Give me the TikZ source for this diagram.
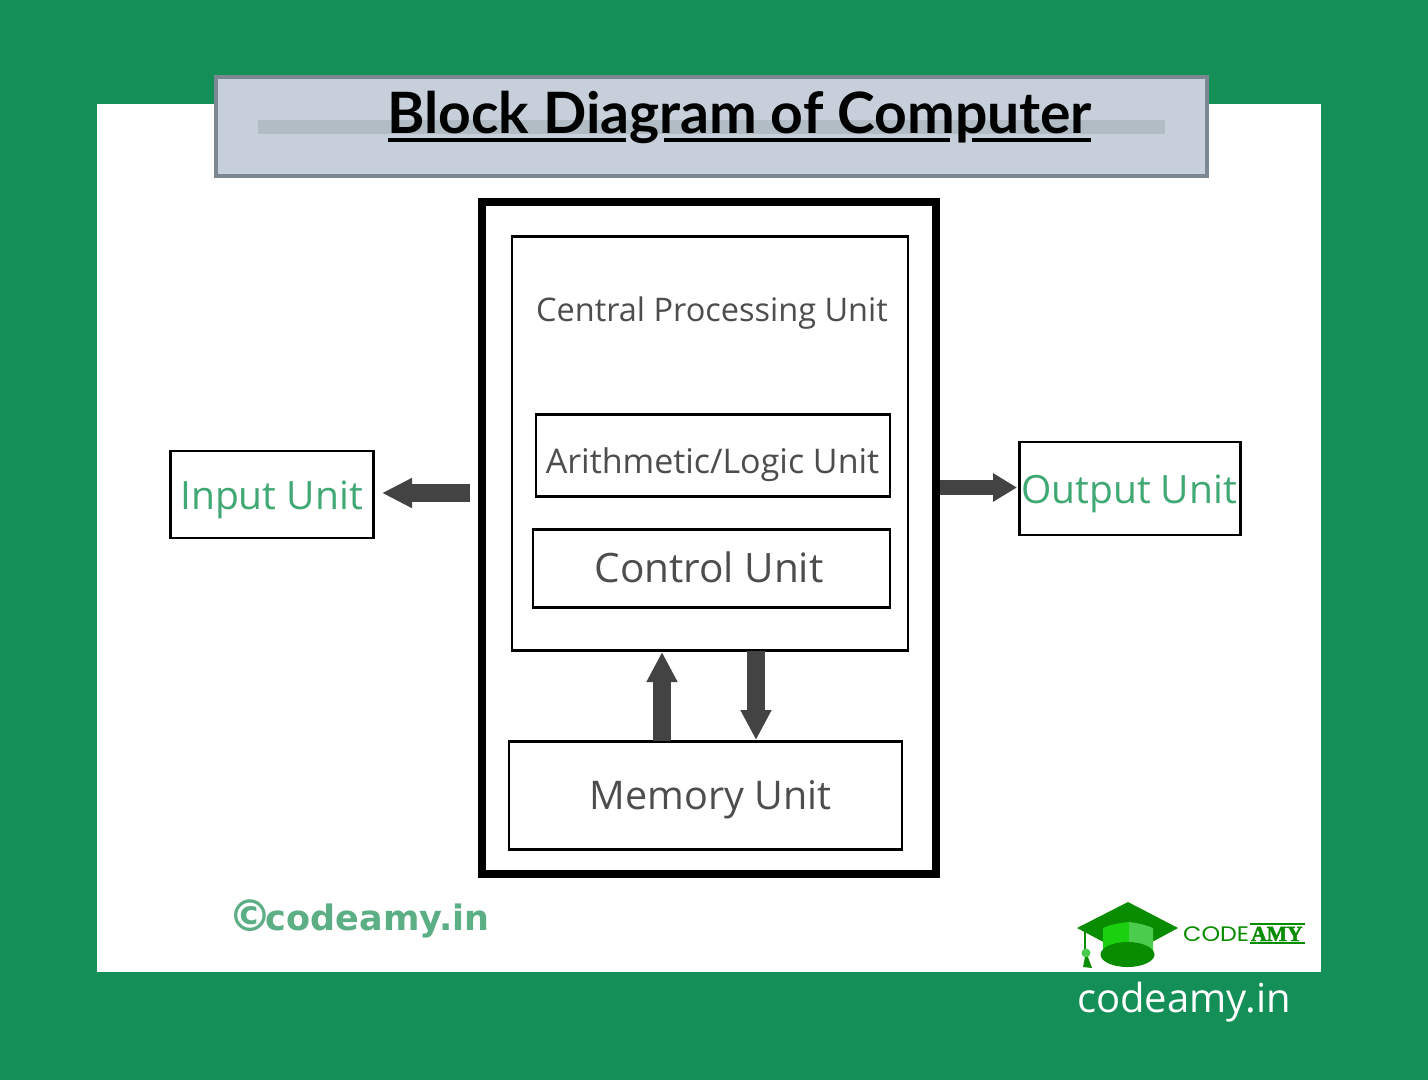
\documentclass[tikz,border=0pt]{standalone}
\usepackage{fontspec}
\usepackage{graphicx}
\setmainfont{Open Sans}
\newfontfamily\titlefont{Lato}
\newfontfamily\logofont[BoldFeatures={FakeBold=2}]{Liberation Serif}
\newfontfamily\codefont{Poppins}
\newfontfamily\markfont{DejaVu Sans}
\usetikzlibrary{arrows.meta}
\definecolor{pagegreen}{HTML}{148F57}
\definecolor{titlefill}{HTML}{C7CFDA}
\definecolor{titleedge}{HTML}{7B8791}
\definecolor{titleband}{HTML}{B1BCC5}
\definecolor{unitgreen}{HTML}{3FA873}
\definecolor{unitgrey}{HTML}{4D4D4D}
\definecolor{arrowgrey}{HTML}{434343}
\definecolor{markgreen}{HTML}{5CAE84}
\definecolor{capdark}{HTML}{0A8C00}
\definecolor{capmid}{HTML}{1BD00F}
\definecolor{caplight}{HTML}{4CCC4C}
\tikzset{
  unitbox/.style={draw=black,line width=2.2pt,fill=white,inner sep=0pt,anchor=center},
  unittext/.style={text=unitgrey,font=\fontsize{#1}{#1}\selectfont,inner sep=0pt},
  iotext/.style={text=unitgreen,font=\fontsize{39}{39}\selectfont,inner sep=0pt},
  bigarrow/.style={draw=arrowgrey,line width=#1},
}
\begin{document}
\begin{tikzpicture}[x=1pt,y=-1pt]
\useasboundingbox (0,0) rectangle (1428,1080);
\fill[pagegreen] (0,0) rectangle (1428,1080);
\fill[white] (96.5,104) rectangle (1321,972);
% title
\node[draw=titleedge,fill=titlefill,line width=3.5pt,minimum width=991pt,minimum height=99pt,inner sep=0pt] (title) at (711.5,126.5) {};
\fill[titleband] (258,120) rectangle (1165,134);
\fill[black] (387.5,137.5) rectangle (626,142);
\fill[black] (664,137.5) rectangle (950,142);
\fill[black] (972,137.5) rectangle (1091,142);
\node[inner sep=0pt,anchor=base,font=\titlefont\bfseries\fontsize{57}{57}\selectfont] (titletext) at (739.5,133) {Block Diagram of Computer};
% main boxes
\node[draw=black,line width=8pt,minimum width=454pt,minimum height=672pt,inner sep=0pt] (computer) at (708.5,538) {};
\node[unitbox,minimum width=396pt,minimum height=414pt] (cpu) at (710,443.5) {};
\node[unittext=32.5,anchor=base] (cputext) at (712,321) {Central Processing Unit};
\node[unitbox,minimum width=354pt,minimum height=82pt] (alu) at (713,455.5) {};
\node[unittext=34,anchor=base] (alutext) at (712.5,473) {Arithmetic/Logic Unit};
\node[unitbox,minimum width=357pt,minimum height=78pt] (control) at (711.5,568.5) {};
\node[unittext=40.5,anchor=base] (controltext) at (709,582.5) {Control Unit};
\node[unitbox,minimum width=393pt,minimum height=108pt] (memory) at (705.5,795.5) {};
\node[unittext=39.5,anchor=base] (memorytext) at (710.5,809) {Memory Unit};
\node[unitbox,minimum width=203pt,minimum height=87pt] (input) at (272,494.5) {};
\node[iotext,anchor=base] (inputtext) at (271.5,509.5) {Input Unit};
\node[unitbox,minimum width=221pt,minimum height=93pt] (output) at (1130,488.5) {};
\node[iotext,anchor=base] (outputtext) at (1129,503.5) {Output Unit};
% connectors
\coordinate (inputstart) at (470,493);
\coordinate (inputend) at (382,493);
\coordinate (outputstart) at (940,487.5);
\coordinate (outputend) at (1017,487.5);
\draw[bigarrow=18pt,-{Triangle[length=30pt,width=28pt]}] (inputstart) -- (inputend);
\draw[bigarrow=15pt,-{Triangle[length=24pt,width=27pt]}] (outputstart) -- (outputend);
\coordinate (upstart) at (662,741);
\coordinate (upend) at (662,652);
\coordinate (downstart) at (756,651);
\coordinate (downend) at (756,740);
\draw[bigarrow=18pt,-{Triangle[length=30pt,width=29pt]}] (upstart) -- (upend);
\draw[bigarrow=18pt,-{Triangle[length=30pt,width=29pt]}] (downstart) -- (downend);
% watermark and caption
\node[inner sep=0pt,anchor=base west,text=markgreen,font=\markfont\bfseries\fontsize{35}{35}\selectfont] (mark) at (228,930) {\raisebox{-1pt}{\scalebox{1.25}{©}}\kern-6pt codeamy.in};
\node[inner sep=0pt,anchor=base west,text=white,font=\fontsize{40}{40}\selectfont] (caption) at (1077,1012) {codeamy.in};
% logo
\fill[capdark] (1077,928) -- (1128,902) -- (1178,928) -- (1128,955) -- cycle;
\fill[capmid] (1103,928) .. controls (1112,924) and (1120,923) .. (1129,922) -- (1129,960) -- (1103,955) -- cycle;
\fill[caplight] (1129,922) .. controls (1138,923) and (1146,925) .. (1153,928) -- (1153,952) -- (1129,960) -- cycle;
\fill[capdark] (1127.5,954.5) ellipse [x radius=27pt,y radius=12.5pt];
\draw[capdark,line width=2pt] (1085,932) -- (1085,950);
\fill[caplight] (1086,953) circle [radius=4.5pt];
\fill[capdark] (1085,957) -- (1083,967) -- (1092,968) -- (1088,957) -- cycle;
\node[inner sep=0pt,anchor=base west,text=capdark,font=\codefont\fontsize{21}{21}\selectfont] (logocode) at (1183,941) {\scalebox{1.13}[1]{CODE}};
\node[inner sep=0pt,anchor=base west,text=capdark,font=\logofont\bfseries\fontsize{21.5}{21.5}\selectfont] (logoamy) at (1251,941) {AMY};
\draw[capdark,line width=1.2pt] (1250,924) -- (1305,924);
\draw[capdark,line width=1.2pt] (1250,943) -- (1305,943);
\end{tikzpicture}
\end{document}
